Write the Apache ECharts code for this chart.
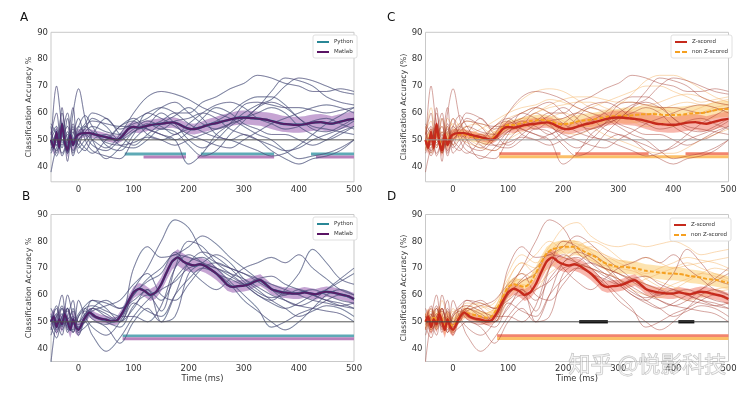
<!DOCTYPE html>
<html><head><meta charset="utf-8">
<script src="https://cdn.jsdelivr.net/npm/echarts@6/dist/echarts.min.js"></script>
<style>html,body{margin:0;padding:0;background:#fff}#c{width:751px;height:397px}</style>
</head><body><div id="c"></div>
<script>
// ---------- data ----------
const tSubj = [-50,-40,-30,-20,-10,0,12,25,50,75,100,125,150,175,200,225,250,275,300,325,350,375,400,425,450,475,500];
const tMean = [-50,-45,-40,-35,-30,-25,-20,-15,-10,-5,0,10,20,30,40,50,60,70,80,90,100,110,120,130,140,150,160,170,180,190,200,210,220,230,240,250,260,270,280,290,300,310,320,330,340,350,360,370,380,390,400,410,420,430,440,450,460,470,480,490,500];
const xTicks = [0,100,200,300,400,500];
const yTicks = [40,50,60,70,80,90];
const chance = 50;

// Panel A / C (Z-scored) single-subject curves
const subjA = [
 [48,70,55,45,60,69,58,50,43,47,53,55,57,60,60,64,66,69,71,74,73,71,70,68,68,69,68],
 [55,45,60,50,48,52,55,53,50,55,57,52,50,48,50,52,54,56,58,62,68,73,72,70,66,64,63],
 [46,52,48,58,44,50,52,50,47,52,60,66,68,67,65,62,60,58,55,52,50,46,43,44,45,47,50],
 [50,48,62,42,55,48,55,57,56,55,55,54,52,50,41,45,52,56,63,64,63,62,62,61,60,61,62],
 [52,60,44,50,62,45,48,52,58,52,48,52,56,59,62,58,52,50,52,50,46,43,41,43,44,46,50],
 [45,50,55,47,52,58,50,46,44,43,50,55,60,56,50,47,50,55,58,60,62,60,55,52,50,52,55],
 [50,44,52,60,48,53,56,60,58,54,56,58,62,64,60,56,54,56,60,63,65,70,73,72,70,68,67],
 [38,47,50,45,56,50,47,45,50,55,58,54,52,50,53,58,62,60,56,54,52,52,50,48,50,53,55],
 [52,55,47,53,49,55,59,55,48,46,52,60,58,55,52,50,48,47,50,53,56,58,60,62,63,62,60],
 [49,46,51,55,45,52,54,58,55,50,53,56,54,57,58,60,58,54,52,50,48,46,47,50,52,54,57],
 [56,52,45,50,54,48,46,50,52,48,47,50,54,53,48,44,46,52,57,62,64,62,58,54,53,55,58],
 [47,49,53,46,50,55,52,48,46,50,54,57,55,52,56,60,63,64,62,58,56,54,55,57,58,56,54],
 [50,54,49,52,46,50,53,55,53,52,57,60,62,60,56,53,51,50,48,46,44,45,48,52,56,59,62],
 [53,48,56,49,53,47,50,52,49,48,49,51,50,52,54,55,57,60,64,66,66,63,58,55,54,53,52]
];
// Panel B / D (Z-scored) single-subject curves
const subjB = [
 [50,55,48,60,52,45,52,58,55,50,62,70,80,88,85,76,72,70,68,65,62,60,62,60,58,56,55],
 [45,52,60,47,55,50,55,56,54,52,70,78,74,75,78,82,79,74,70,66,62,58,56,58,62,66,70],
 [52,48,55,50,47,58,52,48,45,50,60,65,68,76,70,65,62,66,70,72,74,72,75,70,66,62,60],
 [55,50,45,55,50,48,50,55,58,55,58,62,50,60,72,74,70,65,60,55,48,50,53,55,58,60,58],
 [48,44,52,55,46,52,55,52,50,48,56,60,54,70,80,78,72,68,64,60,58,62,68,77,72,66,64],
 [50,56,47,52,58,46,48,50,48,42,50,55,50,52,68,72,75,72,66,62,58,55,52,54,56,55,52],
 [35,50,55,48,52,50,53,55,52,50,57,54,52,60,66,70,68,64,58,54,50,47,50,55,60,62,60],
 [53,47,50,55,49,53,56,58,57,55,60,66,70,75,74,72,70,68,66,63,60,58,56,55,54,53,50],
 [49,52,56,46,51,48,50,45,39,44,52,58,62,65,70,71,70,67,64,60,57,55,57,60,62,65,68],
 [52,49,53,51,54,47,51,54,56,58,64,68,60,58,64,70,72,70,68,66,64,62,60,58,57,56,57],
 [47,53,49,50,46,52,54,51,49,52,52,50,56,70,75,72,68,66,64,66,67,64,62,60,58,57,55],
 [51,46,52,54,50,49,52,55,53,50,55,62,58,66,72,76,74,70,65,61,59,60,61,62,60,58,57]
];
// Panel C non Z-scored single-subject curves
const subjCnz = [
 [52,62,50,48,58,55,53,55,52,55,60,65,68,69,68,65,62,61,63,67,72,74,74,72,69,66,64],
 [48,45,56,52,50,58,55,52,50,53,56,58,60,63,65,66,66,65,64,64,63,64,66,67,66,64,63],
 [55,50,47,58,52,50,50,50,48,50,55,58,58,57,58,60,62,64,66,68,70,70,68,66,64,65,66],
 [46,53,55,45,51,54,56,53,51,54,58,60,62,60,57,55,55,57,59,61,63,62,60,59,60,61,62],
 [50,47,52,55,47,50,52,55,56,53,52,54,56,55,53,52,54,57,60,60,58,56,55,58,60,62,63],
 [53,57,48,50,55,48,50,49,47,46,50,53,55,58,60,58,55,52,50,48,46,45,45,47,50,52,54],
 [49,52,54,47,53,56,54,52,54,57,60,62,63,65,64,62,60,59,58,58,59,61,63,64,63,62,60],
 [51,48,50,53,49,52,55,57,55,52,54,57,60,62,63,64,64,62,60,57,55,56,58,60,62,64,65]
];
// Panel D non Z-scored single-subject curves
const subjDnz = [
 [50,55,48,58,52,47,52,55,53,55,68,75,72,78,85,87,82,79,78,79,78,79,80,78,75,76,77],
 [48,52,55,50,54,50,53,52,50,50,65,72,70,76,80,79,77,75,73,72,74,72,70,71,72,73,74],
 [53,47,50,54,49,55,52,54,56,54,62,68,66,72,78,80,76,72,68,66,64,62,64,66,68,67,65],
 [51,50,52,49,53,51,55,56,54,52,60,70,75,80,76,72,70,68,66,62,60,59,62,65,68,70,69],
 [49,53,47,52,51,54,50,52,55,57,66,72,68,74,77,78,74,70,66,64,66,68,70,72,70,68,66],
 [52,48,53,55,50,52,54,53,51,50,58,64,62,70,74,75,73,71,70,69,67,65,63,61,60,62,63],
 [47,51,54,48,52,49,51,55,57,55,63,66,64,68,72,76,78,75,72,70,68,70,72,74,73,72,70],
 [50,54,50,51,48,53,55,57,56,53,60,65,68,70,74,78,80,78,74,70,66,63,60,58,59,61,62]
];

// Group means and confidence half-widths (on tMean)
const meanA = [50,47,53,47,56,49,46,52,48,51,52,
 52.5,52.5,52,51.5,51,50.5,50,51.5,54,54.8,
 54.5,55,55.5,55.8,56,56.3,56.5,56,55,54.2,
 54,54.5,55.2,55.8,56.2,56.8,57.3,57.8,58.2,58.3,
 58.2,58,57.8,57.5,57,56.5,56,55.8,55.6,55.6,
 55.8,56.2,56.5,56.6,56.2,56,56.5,57,57.5,57.8];
const bandA = [2.5,2.5,2.5,2.5,2.5,2.5,2.5,2.5,2.5,2,2,
 1.5,1.5,1.5,1.5,1.5,1.5,1.5,1.8,2,2,
 2,2,2,2,2,2,2,2,2,2,
 2,2,2.2,2.2,2.4,2.5,2.5,2.5,2.6,2.6,
 2.6,2.6,2.6,2.8,3,3,3,3,3,3,
 3,3,3,3,3,2.8,2.8,2.8,2.8,2.8];
const meanB = [50,52,48,51,49,53,50,47,51,48,47,
 51,53.5,52,51.2,50.8,50.2,50.5,53.5,57.5,61,
 62.3,61.5,60,61,64,68.5,72.5,74,72.5,71.5,
 71,71.5,70.8,69.5,68,66,63.8,63,63.3,63.5,
 64,65,65.5,64,62.2,61.5,61,60.8,60.5,60.5,
 61,60.6,60.2,60.8,61.2,61,60.5,60,59.5,58.5];
const bandB = [3,3,3,3,3,3,3,3,3,2.5,2.5,
 1.8,1.8,1.6,1.5,1.5,1.5,1.6,1.8,2,2.2,
 2.2,2.2,2.2,2.4,2.6,2.8,3,3,3,2.8,
 2.6,2.5,2.5,2.4,2.4,2.3,2.2,2.2,2.2,2.2,
 2.2,2.2,2.2,2,2,2,2,2,2,2,
 2,2,2,2,2,2,2,2,2,2.2];
const meanCnz = [49,50,52,48,54,50,47,51,50,51,52,
 52,52,51.5,51,50.5,50,50.5,52,54.5,55.5,
 55.5,56,56.5,57,57.2,57.5,57.2,56.8,56,55.8,
 56,56.5,57,57.3,57.5,57.8,58.2,58.6,58.8,59,
 59,59,59.2,59.5,59.5,59.6,59.5,59.3,59.2,59.2,
 59.3,59.5,59.8,60,60,60.3,60.8,61.2,61.5,61.5];
const bandCnz = [2.5,2.5,2.5,2.5,2.5,2.5,2.5,2.5,2.5,2,2,
 1.8,1.8,1.8,1.8,1.8,1.8,1.8,1.8,1.8,1.8,
 2,2,2,2,2,2,2,2,2,2,
 2.5,2.5,2.5,2.5,2.5,2.5,2.5,2.5,2.5,2.5,
 3,3,3,3,3,3,3,3,3,3,
 3,3,3,3,3,3,3,3,3,3];
const meanDnz = [50,52,49,52,50,53,51,48,51,49,48.5,
 51.5,53.5,53,52.5,52,51.5,52,55,59,63,
 64,63.5,63,64.5,68,72,75.5,77,77.5,78,
 78,78,77,76,75,74,72.5,71.5,71,70.5,
 70.5,70.2,70,69.5,69,68.8,68.5,68.3,68,68,
 67.8,67.5,67,66.8,66.5,66,65.8,65.5,65,64.5];
const bandDnz = [3,3,3,3,3,3,3,3,3,3,3,
 2,2,2,2,2,2,2,2,2,2,
 2.5,2.5,2.5,2.5,2.5,2.5,2.5,2.5,2.5,2.5,
 2.5,2.5,2.5,2.5,2.5,2.5,2.5,2.5,2.5,2.5,
 2.5,2.5,2.5,2.5,2.5,2.5,2.5,2.5,2.5,2.5,
 2.5,2.5,2.5,2.5,2.5,2.5,2.5,2.5,2.5,2.5];

// significant time windows [start, end] in ms
const sigApy = [[84,195],[222,355],[422,500]];
const sigAml = [[118,195],[216,355],[431,500]];
const sigBpy = [[80,500]];
const sigBml = [[80,500]];
const sigCz  = [[84,195],[222,355],[422,500]];
const sigCnz = [[84,500]];
const sigDz  = [[80,500]];
const sigDnz = [[80,500]];
const sigDdiff = [[229,281],[409,438]];

// ---------- helpers ----------
const pts = (xs, ys) => xs.map((x, i) => [x, ys[i]]);
const series = [];
function addLine(g, xs, ys, name, color, width, opacity, extra) {
  series.push(Object.assign({
    type: 'line', name: name, xAxisIndex: g, yAxisIndex: g,
    data: pts(xs, ys), symbol: 'none', showSymbol: false, smooth: 0.35,
    lineStyle: { color: color, width: width, opacity: opacity },
    itemStyle: { color: color }, silent: true
  }, extra || {}));
}
function addBand(g, xs, mean, band, color, opacity) {
  series.push({
    type: 'custom', xAxisIndex: g, yAxisIndex: g, silent: true,
    data: pts(xs, mean), encode: { x: 0, y: 1 },
    renderItem: (p, api) => {
      if (p.dataIndex !== 0) return null;
      const up = xs.map((x, i) => api.coord([x, mean[i] + band[i]]));
      const lo = xs.map((x, i) => api.coord([x, mean[i] - band[i]])).reverse();
      return { type: 'polygon', shape: { points: up.concat(lo) }, style: { fill: color, opacity: opacity } };
    }
  });
}
function addSig(g, segs, y0, y1, color) {
  series.push({
    type: 'custom', xAxisIndex: g, yAxisIndex: g, silent: true,
    data: segs, encode: { x: [0, 1] },
    renderItem: (p, api) => {
      const a = api.coord([api.value(0), y1]);
      const b = api.coord([api.value(1), y0]);
      return { type: 'rect', shape: { x: a[0], y: a[1], width: b[0] - a[0], height: b[1] - a[1] }, style: { fill: color } };
    }
  });
}
function addChance(g, color) {
  addLine(g, [-50, 500], [chance, chance], 'chance', color, 1, 1, { smooth: false });
}

// colours
const PY = '#2a8796', ML = '#5a1464', PYsub = '#3f8f9c', MLsub = '#55386f';
const ZC = '#c62a1c', NZ = '#f5a020', Zsub = '#a23a2e', NZsub = '#f4b466';

// Panel A (grid 0) & B (grid 1)
[[0, subjA, meanA, bandA, sigApy, sigAml], [1, subjB, meanB, bandB, sigBpy, sigBml]].forEach(([g, subs, m, b, sp, sm]) => {
  subs.forEach(s => addLine(g, tSubj, s, 'py-sub', PYsub, 1.1, 0.35));
  subs.forEach(s => addLine(g, tSubj, s, 'ml-sub', MLsub, 0.7, 0.8));
  addBand(g, tMean, m, b, '#4f8fbf', 0.3);
  addBand(g, tMean, m, b, '#c050b0', 0.4);
  addLine(g, tMean, m, 'Python', PY, 2.4, 1, { smooth: 0.2 });
  addLine(g, tMean, m, 'Matlab', ML, 2.2, 0.9, { smooth: 0.2 });
  addChance(g, '#555');
  addSig(g, sp, 44.2, 45.3, '#5eaab6');
  addSig(g, sm, 43.1, 44.2, '#b980bb');
});

// Panel C (grid 2) & D (grid 3)
[[2, subjA, subjCnz, meanA, bandA, meanCnz, bandCnz, sigCz, sigCnz, '#999'],
 [3, subjB, subjDnz, meanB, bandB, meanDnz, bandDnz, sigDz, sigDnz, '#444']].forEach(([g, zs, ns, mz, bz, mn, bn, sz, sn, cc]) => {
  ns.forEach(s => addLine(g, tSubj, s, 'nz-sub', NZsub, 0.9, 0.55));
  zs.forEach(s => addLine(g, tSubj, s, 'z-sub', Zsub, 0.7, 0.65));
  addBand(g, tMean, mn, bn, '#fbc24e', 0.45);
  addBand(g, tMean, mz, bz, '#f2705c', 0.5);
  addLine(g, tMean, mn, 'non Z-scored', NZ, 2, 1, { smooth: 0.2, lineStyle: { color: NZ, width: 2, type: [4, 2] } });
  addLine(g, tMean, mz, 'Z-scored', ZC, 2.4, 1, { smooth: 0.2 });
  addChance(g, cc);
  addSig(g, sz, 44.3, 45.4, '#f2846e');
  addSig(g, sn, 43.2, 44.3, '#fbbf68');
});
addSig(3, sigDdiff, 49.4, 50.6, '#000');

// ---------- layout ----------
const grids = [
  { left: 51, top: 32.3, width: 303, height: 149.5 },
  { left: 51, top: 214.5, width: 303, height: 147 },
  { left: 425.5, top: 32.3, width: 303, height: 149.5 },
  { left: 425.5, top: 214.5, width: 303, height: 147 }
].map(g => Object.assign(g, { show: true, borderColor: '#c9c9c9', borderWidth: 1, backgroundColor: 'transparent' }));

const FONT = 'DejaVu Sans';
const xAxes = [0, 1, 2, 3].map(g => ({
  type: 'value', gridIndex: g, min: -50, max: 500,
  axisLine: { show: false }, axisTick: { show: false }, splitLine: { show: false },
  axisLabel: { customValues: xTicks, color: '#333', fontSize: 8.5, fontFamily: FONT, margin: 3 },
  name: (g === 1 || g === 3) ? 'Time (ms)' : '', nameLocation: 'middle', nameGap: 12,
  nameTextStyle: { color: '#333', fontSize: 8.3, fontFamily: FONT }
}));
const yAxes = [0, 1, 2, 3].map(g => ({
  type: 'value', gridIndex: g, min: (g % 2 === 0) ? 34.4 : 35.2, max: 90,
  axisLine: { show: false }, axisTick: { show: false }, splitLine: { show: false },
  axisLabel: { customValues: yTicks, color: '#333', fontSize: 8.5, fontFamily: FONT, margin: 3 },
  name: g < 2 ? 'Classification Accuracy %' : 'Classification Accuracy (%)',
  nameLocation: 'middle', nameGap: 12,
  nameTextStyle: { color: '#333', fontSize: 7.9, fontFamily: FONT }
}));

const solidIcon = 'path://M0,0H12V2H0Z';
const dashIcon = 'path://M0,0H5V2H0Z M7,0H12V2H7Z';
const legendBase = {
  orient: 'vertical', itemWidth: 12, itemHeight: 2, itemGap: 4,
  padding: [4, 4, 3, 4], borderColor: '#d8d8d8', borderWidth: 0.8, borderRadius: 2,
  backgroundColor: '#fff', textStyle: { fontSize: 5.5, color: '#333', fontFamily: FONT },
  selectedMode: false
};
const pyItems = [{ name: 'Python', icon: solidIcon, itemStyle: { color: PY } }, { name: 'Matlab', icon: solidIcon, itemStyle: { color: ML } }];
const zItems = [{ name: 'Z-scored', icon: solidIcon, itemStyle: { color: ZC } }, { name: 'non Z-scored', icon: dashIcon, itemStyle: { color: NZ } }];
const legends = [
  Object.assign({ data: pyItems, left: 313, top: 35 }, legendBase),
  Object.assign({ data: pyItems, left: 313, top: 217 }, legendBase),
  Object.assign({ data: zItems, left: 671, top: 35 }, legendBase),
  Object.assign({ data: zItems, left: 670, top: 218 }, legendBase)
];

const letters = [['A', 20, 12], ['B', 22, 191], ['C', 387, 12], ['D', 387, 191]];
const graphic = letters.map(([t, x, y]) => ({
  type: 'text', left: x, top: y, style: { text: t, fontSize: 12, fontFamily: FONT, fill: '#111' }
}));
graphic.push({
  type: 'text', left: 568, top: 352, z: 100,
  style: { text: '知乎 @悦影科技', fontSize: 22, fontFamily: 'Noto Sans CJK SC', fill: 'rgba(255,255,255,0.55)', stroke: 'rgba(110,110,110,0.45)', lineWidth: 1 }
});

const chart = echarts.init(document.getElementById('c'), null, { renderer: 'canvas' });
chart.setOption({
  animation: false, backgroundColor: '#fff',
  grid: grids, xAxis: xAxes, yAxis: yAxes, legend: legends, graphic: graphic, series: series
});
</script></body></html>
